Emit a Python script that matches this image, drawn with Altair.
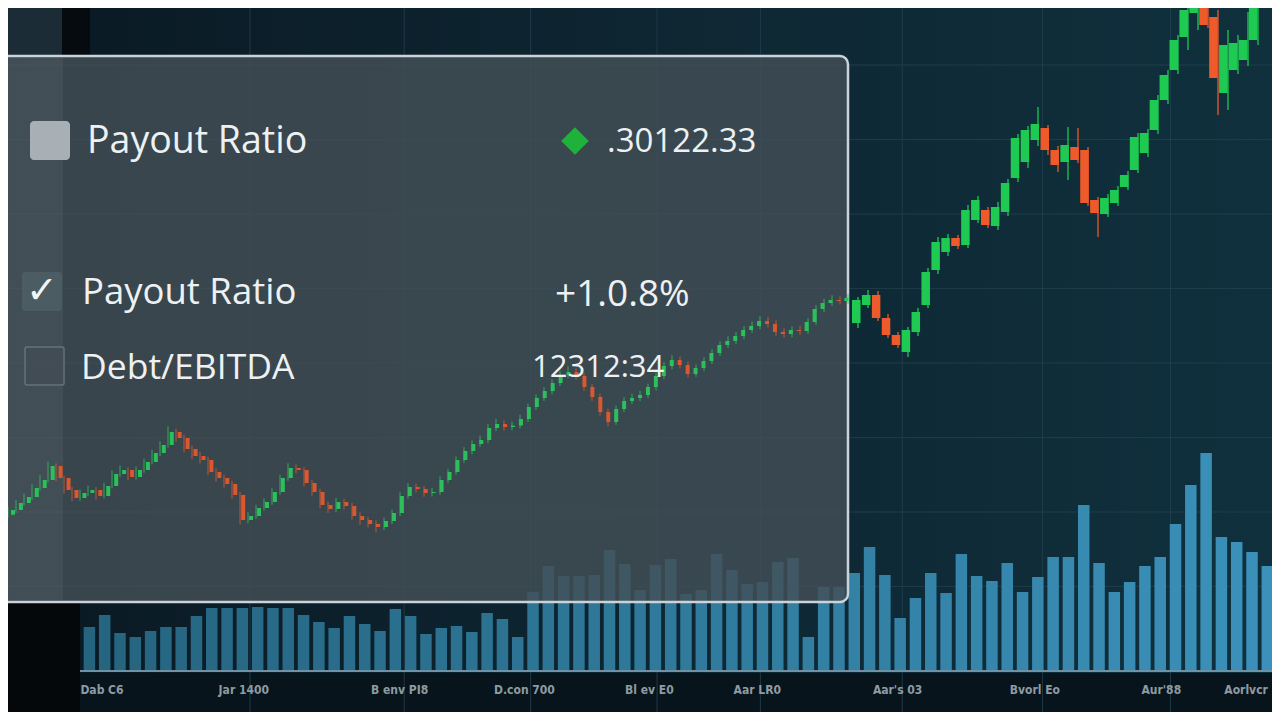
import altair as alt
import pandas as pd

W, H = 1264, 704

# ---------------- data ----------------
# small candles (inside the panel)
left_open = [51.3, 52.5, 54.25, 55.75, 58, 60, 63.5, 60.5, 57.5, 55.5,
             56.75, 57.5, 56, 58.5, 61.5, 62.5, 60.75, 62.5, 64.5, 66.75,
             68.75, 72, 70.5, 67.75, 66, 65, 62, 60.5, 59, 56.25,
             50, 51, 53, 54.5, 57, 60.5, 63, 62.5, 59.25, 57,
             53.75, 52.75, 54.5, 53.5, 51, 50, 49, 48.25, 49.75, 51.75,
             56, 58.25, 57.75, 56.75, 57, 60, 62, 65, 67.25, 69,
             70, 73, 74, 73.25, 73.6, 75.25, 78.25, 80.5, 82.25, 84.25,
             86.25, 87, 86, 83.25, 80.75, 77, 74.5, 77.75, 79.75, 80.5,
             81.25, 83.25, 86, 88.5, 90, 88.75, 86.5, 88, 89.75, 91.75,
             93.75, 94.75, 96, 97.5, 98.5, 99.75, 99, 97, 96.5, 97.5,
             97.25, 99.5, 102.75, 104.25, 105, 104.75]
left_close = [52.5, 54.25, 55.75, 58, 60, 63.5, 60.5, 57.5, 55.5, 56.75,
              57.5, 56, 58.5, 61.5, 62.5, 60.75, 62.5, 64.5, 66.75, 68.75,
              72, 70.5, 67.75, 66, 65, 62, 60.5, 59, 56.25, 50,
              51, 53, 54.5, 57, 60.5, 63, 62.5, 59.25, 57, 53.75,
              52.75, 54.5, 53.5, 51, 50, 49, 48.25, 49.75, 51.75, 56,
              58.25, 57.75, 56.75, 57, 60, 62, 65, 67.25, 69, 70,
              73, 74, 73.25, 73.6, 75.25, 78.25, 80.5, 82.25, 84.25, 86.25,
              87, 86, 83.25, 80.75, 77, 74.5, 77.75, 79.75, 80.5, 81.25,
              83.25, 86, 88.5, 90, 88.75, 86.5, 88, 89.75, 91.75, 93.75,
              94.75, 96, 97.5, 98.5, 99.75, 99, 97, 96.5, 97.5, 97.25,
              99.5, 102.75, 104.25, 105, 104.75, 105.5]
left_high = [53.3, 55.0, 56.6, 58.9, 61.2, 64.6, 64.2, 61.1, 58.3, 57.6,
             58.6, 58.2, 59.3, 62.4, 63.6, 63.2, 63.4, 65.3, 67.6, 69.7,
             73.4, 72.8, 71.3, 68.6, 67.0, 65.8, 62.9, 61.3, 59.8, 57.0,
             51.9, 53.8, 55.4, 57.9, 61.3, 64.2, 63.9, 63.2, 60.0, 57.8,
             54.6, 55.5, 55.3, 54.3, 51.9, 50.8, 49.9, 50.6, 52.6, 56.9,
             59.2, 59.1, 58.5, 58.0, 60.9, 62.8, 65.9, 68.2, 69.9, 71.1,
             74.0, 75.3, 74.9, 74.6, 76.3, 79.1, 81.4, 83.2, 85.2, 87.3,
             88.4, 87.9, 86.8, 84.0, 81.6, 77.8, 78.6, 80.7, 81.6, 82.3,
             84.1, 86.9, 89.5, 91.2, 90.9, 89.6, 88.9, 90.7, 92.7, 94.7,
             95.9, 97.0, 98.5, 99.6, 101.0, 100.8, 99.9, 97.9, 98.4, 98.6,
             100.4, 103.7, 105.3, 106.2, 105.9, 106.5]
left_low = [50.6, 51.8, 53.6, 55.0, 57.3, 59.4, 59.7, 56.6, 54.7, 54.8,
            56.0, 55.1, 55.4, 57.9, 60.8, 59.9, 60.1, 61.8, 63.9, 66.0,
            68.1, 69.6, 66.9, 65.2, 64.1, 61.2, 59.6, 58.1, 55.3, 48.9,
            49.2, 50.3, 52.4, 53.8, 56.3, 59.8, 61.7, 58.4, 56.1, 52.9,
            51.8, 52.0, 52.6, 50.1, 48.8, 48.1, 46.9, 47.5, 49.0, 51.0,
            55.3, 56.9, 55.8, 55.9, 56.3, 59.2, 61.3, 64.3, 66.4, 68.3,
            69.2, 72.2, 72.3, 72.4, 72.9, 74.5, 77.5, 79.8, 81.4, 83.5,
            85.5, 85.1, 82.3, 79.8, 76.1, 73.4, 73.8, 77.0, 79.0, 79.7,
            80.5, 82.4, 85.3, 87.7, 87.9, 85.6, 85.8, 87.2, 89.0, 91.0,
            93.0, 94.0, 95.2, 96.8, 97.7, 98.1, 96.1, 95.6, 95.7, 96.3,
            96.5, 98.8, 102.0, 103.5, 103.9, 104.0]

# large candles (right of the panel)
right_open = [99.25, 103.75, 106.25, 100.5, 96.25, 92, 97, 103.75, 112.5, 117,
              120.5, 118.75, 125, 127.5, 123.5, 127, 135.5, 139.5, 145, 148,
              142.5, 139.5, 143.25, 142.5, 130, 126.5, 129.25, 133.25, 137.5, 141.75,
              147.5, 155, 162.5, 170.75, 176.75, 181.25, 175.75, 156.75, 162.5, 165, 170]
right_close = [105, 106.25, 100.5, 96.25, 93.75, 97.5, 102, 112, 119.5, 120.5,
               118.5, 127.5, 130, 123.75, 128.25, 134.25, 145.5, 147.5, 149, 142.5,
               138.75, 143.75, 140, 129.25, 126.75, 130.5, 132.5, 136.25, 145.75, 146.75,
               155, 161.25, 170, 177.5, 181.25, 173.75, 160.5, 168.75, 169.25, 170, 178.25]
right_high = [105.75, 107.5, 107.25, 101.5, 97, 98.25, 103, 113, 120.75, 121.5,
              121.25, 128.75, 131, 128.25, 129.5, 135.25, 146.5, 148.5, 153.25, 148.75,
              143.5, 148.25, 148, 143.25, 130.75, 131.5, 133.5, 137.25, 146.75, 147.75,
              156.25, 162.5, 171.25, 178.75, 182.5, 182.5, 177.5, 172.5, 171.25, 177, 180]
right_low = [98, 103, 99.75, 95.5, 93, 90.75, 96, 103, 111.5, 116,
             117.75, 118, 124.25, 123, 122.5, 126, 134.5, 138, 143.5, 141.25,
             137, 135, 139.25, 128.5, 120.75, 125.75, 128.5, 132.5, 136.75, 140.75,
             146.5, 154, 161.5, 167.5, 172.5, 173, 151.25, 152.5, 161.5, 163.5, 168.75]

# volume (millions)
volume = [2.15, 2.75, 1.85, 1.65, 1.95, 2.15, 2.15, 2.7, 3.1, 3.1, 3.1, 3.15, 3.1,
          3.1, 2.75, 2.4, 2.1, 2.7, 2.3, 1.95, 3.05, 2.7, 1.8, 2.1, 2.2, 1.9,
          2.85, 2.55, 1.65, 3.9, 5.2, 4.7, 4.7, 4.75, 6.0, 5.3, 4.0, 5.25, 5.55,
          3.8, 4.0, 5.8, 5.0, 4.3, 4.4, 5.4, 5.6, 1.65, 4.15, 4.15, 4.85, 6.15,
          4.75, 2.6, 3.6, 4.85, 3.85, 5.8, 4.7, 4.45, 5.35, 3.9, 4.65, 5.65,
          5.65, 8.25, 5.35, 3.9, 4.4, 5.2, 5.65, 7.3, 9.25, 10.85, 6.65, 6.4, 5.9, 5.2]

tick_labels = ["Dab C6", "Jar 1400", "B env PI8", "D.con 700", "Bl ev E0",
               "Aar LR0", "Aar's 03", "Bvorl Eo", "Aur'88", "Aorlvcr"]
tick_weeks = [1.1, 10.3, 20.4, 28.5, 36.6, 43.6, 52.7, 61.6, 69.8, 75.3]

grid_weeks = [10.7, 20.7, 28.9, 37.1, 43.8, 53.0, 62.1, 70.4]
grid_prices = [163.75, 145.1, 126.5, 107.9, 89.25, 70.6, 52.0, 33.4]

assert len(left_open) == len(left_close) == len(left_high) == len(left_low)
assert len(right_open) == len(right_close) == len(right_high) == len(right_low)

# ---------------- frames ----------------
def candles(o, c, h, l):
    df = pd.DataFrame({"i": range(len(o)), "open": o, "close": c, "high": h, "low": l})
    df["dir"] = ["up" if cc >= oo else "down" for oo, cc in zip(o, c)]
    return df

left_df = candles(left_open, left_close, left_high, left_low)
right_df = candles(right_open, right_close, right_high, right_low)
vol_df = pd.DataFrame({"j": range(len(volume)), "vol": volume})
lab_df = pd.DataFrame({"j": tick_weeks, "label": tick_labels})
vgrid_df = pd.DataFrame({"j": grid_weeks})
hgrid_df = pd.DataFrame({"p": grid_prices})

# ---------------- scales ----------------
price_scale = alt.Scale(domain=[2, 178], nice=False, zero=False)
left_x = alt.Scale(domain=[0, 158], nice=False, zero=False)
right_x = alt.Scale(domain=[-85, 41.4], nice=False, zero=False)
week_x = alt.Scale(domain=[-4.994, 76.98], nice=False, zero=False)
vol_y = alt.Scale(domain=[-2.1, 33.1], nice=False, zero=False)

def box(x1, x2, y1, y2):
    return dict(x=alt.value(x1), x2=alt.value(x2), y=alt.value(y1), y2=alt.value(y2))

one = pd.DataFrame({"a": [0]})

bg = alt.Chart(one).mark_rect(
    color=alt.Gradient(gradient="linear", x1=0, x2=1, y1=0, y2=0,
                       stops=[alt.GradientStop(color="#0a1923", offset=0),
                              alt.GradientStop(color="#0e2733", offset=0.55),
                              alt.GradientStop(color="#10303d", offset=1)])
).encode(**box(0, W, 0, H))

bottom_band = alt.Chart(one).mark_rect(color="#08141c").encode(**box(0, W, 665, H))
tl_block = alt.Chart(one).mark_rect(color="#1c2c36").encode(**box(0, 54, 0, 47))
dark_strip = alt.Chart(one).mark_rect(color="#060b0f").encode(**box(54, 82, 0, 47))
bl_block = alt.Chart(one).mark_rect(color="#04080b").encode(**box(0, 72, 594, H))

vgrid = alt.Chart(vgrid_df).mark_rule(color="#23414f", strokeWidth=1, opacity=0.8).encode(
    x=alt.X("j:Q", scale=week_x, axis=None))
hgrid = alt.Chart(hgrid_df).mark_rule(color="#23414f", strokeWidth=1, opacity=0.8).encode(
    y=alt.Y("p:Q", scale=price_scale, axis=None))

vol_bars = alt.Chart(vol_df).mark_bar(size=11.5, clip=True).encode(
    x=alt.X("j:Q", scale=week_x, axis=None),
    y=alt.Y("vol:Q", scale=vol_y, axis=None),
    color=alt.Color("j:Q", scale=alt.Scale(range=["#25647f", "#3b91ba"]), legend=None),
)
vol_base = alt.Chart(one).mark_rule(color="#6f92a6", strokeWidth=2).encode(
    x=alt.value(72), x2=alt.value(W), y=alt.value(663))

panel = alt.Chart(one).mark_rect(
    fill="#434f57", fillOpacity=0.82, stroke="#c9d3d9", strokeWidth=2.5, cornerRadius=8, clip=True
).encode(**box(-20, 840, 48, 594))
panel_left = alt.Chart(one).mark_rect(color="#ffffff", opacity=0.05).encode(**box(0, 55, 50, 592))

GREEN_L, RED_L = "#2cbf5c", "#d9582f"
GREEN_R, RED_R = "#1fca52", "#ee5a2a"

def candle_layers(df, xs, body, wick, g, r):
    col = alt.Color("dir:N", scale=alt.Scale(domain=["up", "down"], range=[g, r]), legend=None)
    w = alt.Chart(df).mark_rule(strokeWidth=wick, clip=True, opacity=0.85).encode(
        x=alt.X("i:Q", scale=xs, axis=None),
        y=alt.Y("low:Q", scale=price_scale, axis=None), y2="high:Q", color=col)
    b = alt.Chart(df).mark_bar(size=body, clip=True).encode(
        x=alt.X("i:Q", scale=xs, axis=None),
        y=alt.Y("open:Q", scale=price_scale, axis=None), y2="close:Q", color=col)
    return [w, b]

labels = alt.Chart(lab_df).mark_text(
    font="Liberation Sans Narrow, DejaVu Sans Condensed, Roboto", fontSize=12, fontWeight="bold",
    color="#8e9ba2", align="center", baseline="middle"
).encode(x=alt.X("j:Q", scale=week_x, axis=None), y=alt.value(682), text="label:N")

def txt(s, x, y, size, color="#edf1f3", font="Open Sans", align="left"):
    return alt.Chart(pd.DataFrame({"t": [s]})).mark_text(
        font=font, fontSize=size, color=color, align=align, baseline="middle"
    ).encode(x=alt.value(x), y=alt.value(y), text="t:N")

cb1 = alt.Chart(one).mark_rect(color="#a9b0b5", cornerRadius=4).encode(**box(22, 62, 113, 152))
cb2 = alt.Chart(one).mark_rect(color="#4b5c62", cornerRadius=3).encode(**box(14, 54, 264, 303))
cb3 = alt.Chart(one).mark_rect(fill="#3f4a51", fillOpacity=0.3, stroke="#66727a",
                               strokeWidth=1.5, cornerRadius=2).encode(**box(17, 56, 339, 377))
diamond = alt.Chart(one).mark_point(
    shape="diamond", filled=True, size=760, color="#1fb23a", opacity=1).encode(x=alt.value(567), y=alt.value(133))

layers = [bg, bottom_band, tl_block, dark_strip, bl_block, vgrid, hgrid, vol_bars, vol_base,
          panel, panel_left]
layers += candle_layers(left_df, left_x, 4, 1, GREEN_L, RED_L)
layers += candle_layers(right_df, right_x, 8.5, 1.5, GREEN_R, RED_R)
layers += [labels, cb1, cb2, cb3, diamond,
           txt("Payout Ratio", 79, 134, 37.5),
           txt(".30122.33", 599, 134, 33),
           txt("✓", 34, 284, 38, color="#f2f5f6", font="DejaVu Sans", align="center"),
           txt("Payout Ratio", 74, 285, 36.5),
           txt("+1.0.8%", 547, 287, 37),
           txt("Debt/EBITDA", 73, 360, 35.5),
           txt("12312:34", 524, 360, 31)]

chart = alt.layer(*layers).resolve_scale(
    x="independent", y="independent", color="independent"
).properties(
    width=W, height=H, padding=0, background="#0d2230",
    autosize=alt.AutoSizeParams(type="none")
).configure_view(stroke=None)

chart.save("out.html", embed_options={"renderer": "svg", "actions": False})
